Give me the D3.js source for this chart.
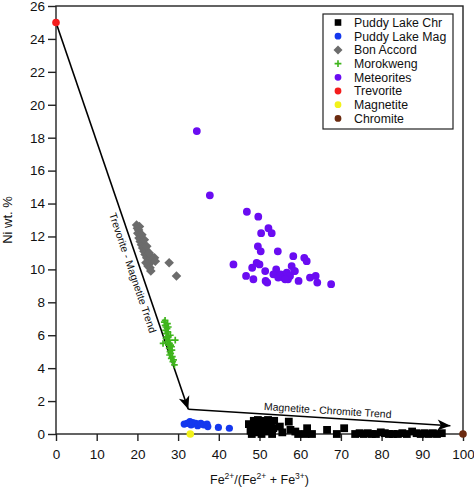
<!DOCTYPE html>
<html>
<head>
<meta charset="utf-8">
<script src="https://cdn.jsdelivr.net/npm/d3@7"></script>
<style>
  body { margin: 0; background: #fff; }
  text { font-family: "Liberation Sans", Arial, sans-serif; fill: #111; }
</style>
</head>
<body>
<svg id="chart" width="474" height="490"></svg>
<script>
// values (x = Fe2+/(Fe2+ + Fe3+), y = Ni wt. %)
var puddyChr = [[47.4,0.6],[47.8,0.2],[48.1,0.0],[48.3,0.4],[48.6,0.8],[49.0,0.1],[49.2,0.5],[49.6,0.85],
  [49.8,0.3],[50.2,0.65],[50.5,0.0],[50.8,0.45],[51.1,0.8],[51.4,0.15],[51.8,0.55],[52.1,0.85],[52.4,0.3],
  [52.8,0.6],[53.1,0.0],[53.4,0.35],[53.6,0.8],[55.0,0.45],[55.6,0.1],[57.2,0.75],[57.6,0.25],[58.8,0.15],
  [59.5,0.0],[61.3,0.0],[61.7,0.35],[62.9,0.0],[66.6,0.25],[69.0,0.0],[70.8,0.35],[73.5,0.0],[74.6,0.05],
  [75.6,0.0],[76.6,0.05],[77.6,0.0],[78.6,0.0],[79.8,0.1],[80.8,0.05],[81.8,0.0],[82.8,0.0],[84.0,0.0],
  [85.1,0.05],[86.2,0.0],[87.5,0.15],[88.6,0.05],[89.6,0.0],[90.6,0.05],[91.6,0.0],[92.6,0.05],[93.6,0.0],[94.8,0.05]];
var puddyMag = [[31.5,0.6],[32.2,0.65],[32.9,0.75],[33.2,0.55],[33.6,0.7],[34.3,0.65],[34.8,0.5],[35.0,0.6],
  [35.6,0.65],[36.3,0.55],[37.1,0.6],[37.3,0.45],[39.9,0.4],[42.6,0.35]];
var bonAccord = [[19.8,12.7],[20.0,12.5],[20.3,12.4],[20.1,12.2],[20.6,12.1],[20.4,11.9],[20.9,11.9],[20.7,11.7],
  [21.2,11.7],[21.0,11.5],[21.5,11.5],[21.3,11.3],[21.8,11.3],[21.6,11.1],[22.1,11.1],[21.9,10.9],[22.5,10.9],
  [22.3,10.7],[22.9,10.7],[23.4,10.8],[23.8,10.6],[24.2,10.7],[22.7,10.5],[23.2,10.4],[22.6,10.2],[23.1,10.1],
  [23.3,9.9],[21.7,11.8],[22.3,11.4],[22.9,11.0],[22.1,10.4],[24.4,10.5],[21.1,12.1],[20.5,12.6],
  [27.8,10.4],[29.6,9.6]];
var morokweng = [[26.6,6.8],[26.8,6.9],[27.4,6.7],[26.8,6.6],[27.0,6.5],[27.6,6.5],[26.9,6.3],[27.3,6.4],
  [27.1,6.1],[27.5,6.2],[28.1,6.0],[27.2,5.9],[27.6,5.9],[27.0,5.8],[27.8,5.7],[29.3,5.7],[27.4,5.6],[26.3,5.5],
  [27.9,5.5],[27.6,5.4],[28.2,5.4],[27.8,5.2],[28.4,5.3],[28.0,5.0],[28.5,5.1],[28.2,4.9],[27.9,4.8],[28.6,4.7],
  [28.3,4.6],[28.7,4.4],[28.9,4.5],[29.1,4.2]];
var meteorites = [[34.6,18.4],[37.8,14.5],[46.9,13.5],[49.7,13.2],[52.2,12.5],[50.4,12.2],[53.0,12.2],[49.6,11.4],
  [50.3,11.1],[54.5,11.1],[43.6,10.3],[58.3,10.8],[61.0,10.7],[61.6,10.5],[49.3,10.4],[50.0,10.3],[48.2,10.1],
  [51.4,9.9],[54.1,10.0],[57.9,10.2],[58.5,9.9],[53.4,9.7],[54.6,9.5],[55.2,9.7],[55.9,9.5],[56.7,9.8],[57.0,9.4],
  [57.5,9.6],[58.7,9.9],[56.3,9.4],[46.7,9.6],[48.5,9.4],[51.5,9.3],[51.9,9.2],[59.6,9.3],[62.4,9.5],[63.8,9.6],
  [64.2,9.2],[67.6,9.1]];
var trevorite = [[0,25]];
var magnetite = [[33,0]];
var chromite = [[100,0]];

// trend arrows: Trevorite -> Magnetite -> Chromite
var trendPoints = [[0,25],[32.5,1.5],[96.9,0.5]];
var trendNames = ["Trevorite - Magnetite Trend", "Magnetite - Chromite Trend"];

var xTicks = [0,10,20,30,40,50,60,70,80,90,100];
var yTicks = [0,2,4,6,8,10,12,14,16,18,20,22,24,26];

var margin = {top: 6, right: 11, bottom: 56, left: 56},
    width = 474 - margin.left - margin.right,
    height = 490 - margin.top - margin.bottom;

var svg = d3.select("#chart");
var g = svg.append("g")
    .attr("transform", "translate(" + margin.left + "," + margin.top + ")");

var x = d3.scaleLinear().domain([0, 100]).range([0, width]);
var y = d3.scaleLinear().domain([0, 26]).range([height, 0]);

// axes
var xAxis = g.append("g")
    .attr("transform", "translate(0," + height + ")")
    .call(d3.axisBottom(x).tickValues(xTicks).tickSize(7).tickPadding(8));
var yAxis = g.append("g")
    .call(d3.axisLeft(y).tickValues(yTicks).tickSize(8).tickPadding(3));
[xAxis, yAxis].forEach(function(a) {
  a.select(".domain").remove();
  a.selectAll("line").attr("stroke", "#222").attr("stroke-width", 1.4);
  a.selectAll("text").style("font-size", "13.5px").attr("fill", "#111")
    .style("font-family", '"Liberation Sans", Arial, sans-serif');
});

g.append("rect")
    .attr("width", width).attr("height", height)
    .attr("fill", "none").attr("stroke", "#222").attr("stroke-width", 1.4);

// axis titles
g.append("text")
    .attr("transform", "translate(" + (-44) + "," + (height / 2) + ")rotate(-90)")
    .attr("text-anchor", "middle")
    .style("font-size", "13px")
    .text("Ni wt. %");

var xt = g.append("text")
    .attr("x", width / 2).attr("y", height + 50)
    .attr("text-anchor", "middle")
    .style("font-size", "12.5px");
xt.append("tspan").text("Fe");
xt.append("tspan").attr("baseline-shift", "super").style("font-size", "8.5px").text("2+");
xt.append("tspan").text("/(Fe");
xt.append("tspan").attr("baseline-shift", "super").style("font-size", "8.5px").text("2+");
xt.append("tspan").text(" + Fe");
xt.append("tspan").attr("baseline-shift", "super").style("font-size", "8.5px").text("3+");
xt.append("tspan").text(")");

// arrow head
svg.append("defs").append("marker")
    .attr("id", "arrow")
    .attr("markerUnits", "userSpaceOnUse")
    .attr("viewBox", "-14 -7 16 14")
    .attr("refX", 0).attr("refY", 0)
    .attr("markerWidth", 16).attr("markerHeight", 14)
    .attr("orient", "auto")
    .append("path")
    .attr("d", "M0,0L-13,-5.5L-9.5,0L-13,5.5Z")
    .attr("fill", "#000");

for (var i = 0; i < trendPoints.length - 1; i++) {
  var a = trendPoints[i], b = trendPoints[i + 1];
  g.append("line")
      .attr("x1", x(a[0])).attr("y1", y(a[1]))
      .attr("x2", x(b[0])).attr("y2", y(b[1]))
      .attr("stroke", "#000").attr("stroke-width", 1.6)
      .attr("marker-end", "url(#arrow)");
}

// trend labels, placed along their arrow
var labelT = [0.64, 0.53], labelOff = [12, -4];
trendNames.forEach(function(name, i) {
  var a = trendPoints[i], b = trendPoints[i + 1];
  var px = x(a[0] + (b[0] - a[0]) * labelT[i]),
      py = y(a[1] + (b[1] - a[1]) * labelT[i]);
  var ang = Math.atan2(y(b[1]) - y(a[1]), x(b[0]) - x(a[0])) * 180 / Math.PI;
  g.append("text")
      .attr("transform", "translate(" + px + "," + py + ")rotate(" + ang + ")")
      .attr("y", labelOff[i])
      .attr("text-anchor", "middle")
      .style("font-size", "10.5px")
      .text(name);
});

// marker shapes
function shape(type, s) {
  if (type == "square") return "M" + (-s) + "," + (-s) + "h" + 2 * s + "v" + 2 * s + "h" + (-2 * s) + "Z";
  if (type == "diamond") return "M0," + (-s) + "L" + s + ",0L0," + s + "L" + (-s) + ",0Z";
  if (type == "plus") return "M" + (-s) + ",0H" + s + "M0," + (-s) + "V" + s;
  return d3.symbol(d3.symbolCircle, Math.PI * s * s)();
}

var series = [
  {name: "Puddy Lake Chr", data: puddyChr, type: "square", color: "#000000", size: 3.9},
  {name: "Puddy Lake Mag", data: puddyMag, type: "circle", color: "#1438ee", size: 3.6},
  {name: "Bon Accord", data: bonAccord, type: "diamond", color: "#6c6c6c", size: 4.8},
  {name: "Morokweng", data: morokweng, type: "plus", color: "#3fb51c", size: 3.3},
  {name: "Meteorites", data: meteorites, type: "circle", color: "#6a0cf2", size: 3.9},
  {name: "Trevorite", data: trevorite, type: "circle", color: "#f41c1c", size: 3.8},
  {name: "Magnetite", data: magnetite, type: "circle", color: "#f2f21a", size: 3.8},
  {name: "Chromite", data: chromite, type: "circle", color: "#6b2a0f", size: 3.8}
];

// draw order: underneath first
[2, 3, 4, 1, 0, 6, 5, 7].forEach(function(k) {
  var s = series[k];
  g.selectAll(null)
      .data(s.data)
      .enter()
      .append("path")
      .attr("transform", function(d) { return "translate(" + x(d[0]) + "," + y(d[1]) + ")"; })
      .attr("d", shape(s.type, s.size))
      .attr("fill", s.type == "plus" ? "none" : s.color)
      .attr("stroke", s.type == "plus" ? s.color : "none")
      .attr("stroke-width", 1.7);
});

// legend
var legend = svg.append("g").attr("transform", "translate(323,14)");
legend.append("rect")
    .attr("width", 130).attr("height", 115)
    .attr("fill", "#fff").attr("stroke", "#222").attr("stroke-width", 1.2);
series.forEach(function(s, i) {
  var row = legend.append("g").attr("transform", "translate(0," + (8.5 + i * 13.7) + ")");
  row.append("path")
      .attr("transform", "translate(15,0)")
      .attr("d", shape(s.type, s.type == "square" ? 3.3 : (s.type == "diamond" ? 4.5 : 3.4)))
      .attr("fill", s.type == "plus" ? "none" : s.color)
      .attr("stroke", s.type == "plus" ? s.color : "none")
      .attr("stroke-width", 1.6);
  row.append("text")
      .attr("x", 31).attr("dy", "0.36em")
      .style("font-size", "12.3px")
      .text(s.name);
});
</script>
</body>
</html>
